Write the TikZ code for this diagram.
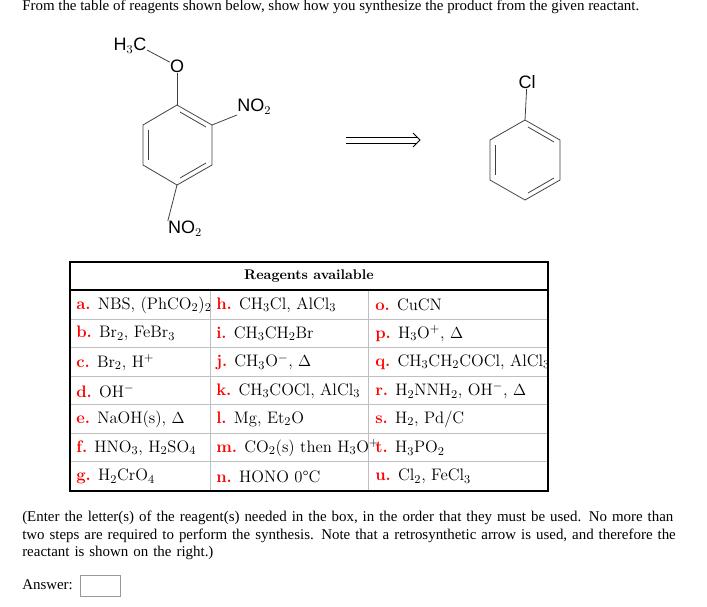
\documentclass[tikz,border=0pt]{standalone}
\usepackage{fontspec}
\setmainfont{Liberation Serif}
\newfontfamily\arial{Liberation Sans}
\newfontfamily\lmr{Latin Modern Roman}
\usepackage{xcolor}
\usetikzlibrary{calc}
\begin{document}
\begin{tikzpicture}[x=0.75pt,y=-0.75pt,
  bond/.style={draw=black!75,line width=0.6pt},
  atom/.style={font=\arial\fontsize{13.5}{14}\selectfont,inner sep=0pt},
  cell/.style={anchor=west,font=\lmr\fontsize{12.5}{14}\selectfont,inner sep=0pt},
  grid/.style={draw=black!25,line width=0.6pt},
  txt/.style={font=\fontsize{11.2}{13}\selectfont,inner sep=0pt}]
\useasboundingbox (0,0) rectangle (707,607);
\node[txt,anchor=north west] (title) at (22,0) {From the table of reagents shown below, show how you synthesize the product from the given reactant.};
% left molecule
\foreach \n/\x/\y in {a1/177/105,a2/212/125,a3/212/165,a4/177/185,a5/143/165,a6/143/125}
  \coordinate (\n) at (\x,\y);
\draw[bond] (a1)--(a2)--(a3)--(a4)--(a5)--(a6)--cycle;
\draw[bond] (180,112)--(206,127);
\draw[bond] (148,130)--(148,160);
\draw[bond] (206,163)--(180,178);
\node[atom] (O) at (177,66) {O};
\node[atom] (me) at (130,46) {H$_3$C};
\node[atom,anchor=west] (n1) at (237,107) {NO$_2$};
\node[atom] (n2) at (185,229) {NO$_2$};
\draw[bond] (a1)--(O);
\draw[bond] (147,50)--(O);
\draw[bond] (a2)--(n1.south west);
\draw[bond] (a4)--(n2.north west);
% arrow
\coordinate (r0) at (346,140); \coordinate (r1) at (420,140);
\draw[line width=0.6pt] ($(r0)+(0,-3)$)--($(r1)+(-3,-3)$) ($(r0)+(0,3)$)--($(r1)+(-3,3)$);
\draw[line width=0.6pt] ($(r1)+(-7,-7)$)--(r1)--($(r1)+(-7,7)$);
% right molecule
\foreach \n/\x/\y in {b1/525/120,b2/560/140,b3/560/180,b4/525/200,b5/490/180,b6/490/140}
  \coordinate (\n) at (\x,\y);
\draw[bond] (b1)--(b2)--(b3)--(b4)--(b5)--(b6)--cycle;
\draw[bond] (528,127)--(554,142);
\draw[bond] (495,145)--(495,175);
\draw[bond] (554,178)--(528,193);
\node[atom] (cl) at (527,82) {Cl};
\draw[bond] (b1)--(cl);
% table
\coordinate (t0) at (70,262); \coordinate (t1) at (548,491);
\foreach \y in {319,347,376,404,433,461} \draw[grid] (70,\y)--(548,\y);
\draw[grid] (210,290)--(210,491) (368,290)--(368,491);
\draw[line width=1.6pt] (t0) rectangle (t1);
\draw[line width=1.6pt] (70,290)--(548,290);
\node[font=\lmr\bfseries\fontsize{10.5}{12}\selectfont] (hd) at (309,276) {Reagents available};
\def\L#1{\textcolor{red}{\bfseries #1}}
\foreach \r/\A/\B [count=\i from 0] in {
 {\L{a.} NBS, (PhCO$_2$)$_2$}/{\L{h.} CH$_3$Cl, AlCl$_3$}/{\L{o.} CuCN},
 {\L{b.} Br$_2$, FeBr$_3$}/{\L{i.} CH$_3$CH$_2$Br}/{\L{p.} H$_3$O$^+$, $\Delta$},
 {\L{c.} Br$_2$, H$^+$}/{\L{j.} CH$_3$O$^-$, $\Delta$}/{\L{q.} CH$_3$CH$_2$COCl, AlCl$_3$},
 {\L{d.} OH$^-$}/{\L{k.} CH$_3$COCl, AlCl$_3$}/{\L{r.} H$_2$NNH$_2$, OH$^-$, $\Delta$},
 {\L{e.} NaOH(s), $\Delta$}/{\L{l.} Mg, Et$_2$O}/{\L{s.} H$_2$, Pd/C},
 {\L{f.} HNO$_3$, H$_2$SO$_4$}/{\L{m.} CO$_2$(s) then H$_3$O$^+$}/{\L{t.} H$_3$PO$_2$},
 {\L{g.} H$_2$CrO$_4$}/{\L{n.} HONO 0\textdegree C}/{\L{u.} Cl$_2$, FeCl$_3$}}
{
 \node[cell] (ca\i) at (76,{305+28.6*\i}) {\r};
 \node[cell] (cb\i) at (216,{305+28.6*\i}) {\A};
 \node[cell] (cc\i) at (375,{305+28.6*\i}) {\B};
}
\node[txt,anchor=north west,align=left,text width=660*0.75pt] (para) at (22,511) {(Enter the letter(s) of the reagent(s) needed in the box, in the order that they must be used. No more than two steps are required to perform the synthesis. Note that a retrosynthetic arrow is used, and therefore the reactant is shown on the right.)};
\node[txt,anchor=west] (ans) at (22,585) {Answer:};
\draw[black!40] (80,575) rectangle (120,596);
\end{tikzpicture}
\end{document}
